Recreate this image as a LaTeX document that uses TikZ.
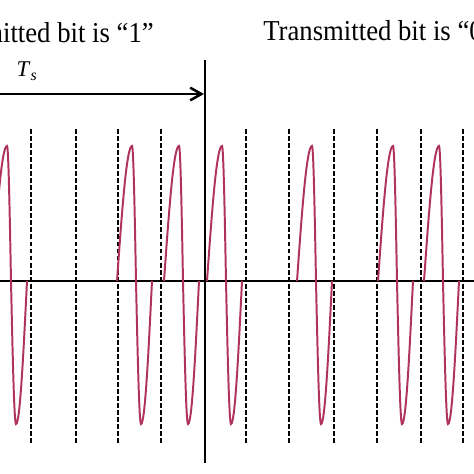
\documentclass[tikz,border=0pt]{standalone}
\usepackage{amsmath}
\usepackage{fontspec}
\setmainfont{Liberation Serif}
\usetikzlibrary{arrows.meta}
\definecolor{pulsered}{RGB}{175,50,95}

\begin{document}
\begin{tikzpicture}[x=0.025cm,y=-0.025cm]
\useasboundingbox (0,0) rectangle (474,474);
\clip (0,0) rectangle (474,474);

%% Labels
\node[anchor=base east,inner sep=0pt,font=\fontsize{19}{23}\selectfont,yscale=1.08] (bitone) at (154,42) {Transmitted bit is “1”};
\node[anchor=base west,inner sep=0pt,font=\fontsize{19}{23}\selectfont,yscale=1.08] (bitzero) at (263,40) {Transmitted bit is “0”};
\node[inner sep=0pt,font=\fontsize{16}{19}\selectfont] (ts) at (27,71) {\textit{T}\textsubscript{\textit{s}}};

%% Symbol duration
\coordinate (tsstart) at (-10,94);
\coordinate (tsend) at (204,94);
\draw[line width=1.8pt,-{Straight Barb[length=8pt,width=9pt]}] (tsstart)--(tsend);

%% Axis
\draw[line width=1.6pt] (0,281)--(474,281);
\draw[line width=1.6pt] (205,60)--(205,463);

%% Chip boundaries
\draw[line width=2.1pt,dash pattern=on 3.5pt off 1.5pt] (31,129)--(31,443);
\draw[line width=2.1pt,dash pattern=on 3.5pt off 1.5pt] (76,129)--(76,443);
\draw[line width=2.1pt,dash pattern=on 3.5pt off 1.5pt] (118,129)--(118,443);
\draw[line width=2.1pt,dash pattern=on 3.5pt off 1.5pt] (161,129)--(161,443);
\draw[line width=2.1pt,dash pattern=on 3.5pt off 1.5pt] (246,129)--(246,443);
\draw[line width=2.1pt,dash pattern=on 3.5pt off 1.5pt] (289,129)--(289,443);
\draw[line width=2.1pt,dash pattern=on 3.5pt off 1.5pt] (334,129)--(334,443);
\draw[line width=2.1pt,dash pattern=on 3.5pt off 1.5pt] (377,129)--(377,443);
\draw[line width=2.1pt,dash pattern=on 3.5pt off 1.5pt] (421,129)--(421,443);
\draw[line width=2.1pt,dash pattern=on 3.5pt off 1.5pt] (463,129)--(463,443);

%% Pulses
\foreach \s in {-8,117,164,207,297,378,424}
  \draw[line width=1.4pt,pulsered] (\s,281)
    .. controls ({\s+4.9},211.8) and ({\s+9.6},146) .. ({\s+15},146)
    .. controls ({\s+16.45},146) and ({\s+17.7},211.8) .. ({\s+19},281)
    .. controls ({\s+20.6},354.3) and ({\s+22.2},424) .. ({\s+24},424)
    .. controls ({\s+28},424) and ({\s+31.4},354.3) .. ({\s+35},281);

\end{tikzpicture}
\end{document}
